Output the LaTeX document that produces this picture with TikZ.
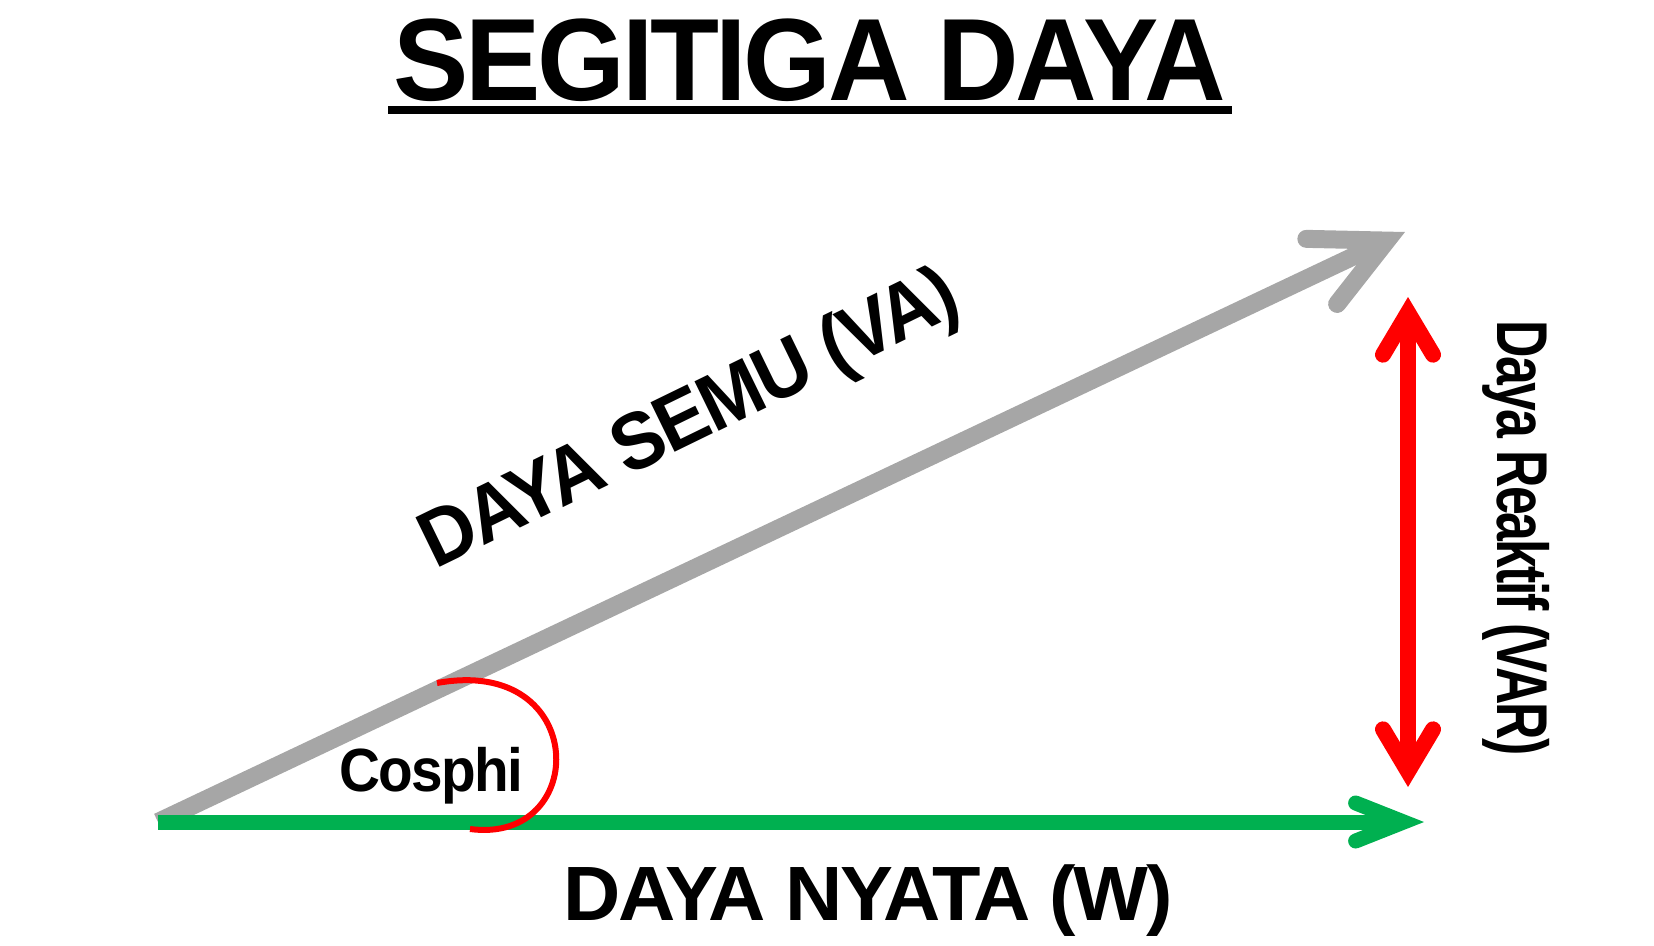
\documentclass[tikz,border=0pt]{standalone}
\usepackage{fontspec}
\setmainfont{Liberation Sans}
\newfontfamily\tightfont{Liberation Sans}[LetterSpace=-3]
\newfontfamily\tighterfont{Liberation Sans}[LetterSpace=-4]
\usepackage{graphicx}
\usetikzlibrary{arrows.meta}
\definecolor{semugray}{RGB}{166,166,166}
\definecolor{nyatagreen}{RGB}{0,176,80}
\definecolor{reaktifred}{RGB}{255,0,0}
\tikzset{lbl/.style={inner sep=0pt}}
\tikzset{semu/.style={semugray, line width=18pt,
      -{Straight Barb[length=72pt, width=72pt, line cap=round, line join=miter]}}}
\tikzset{nyata/.style={nyatagreen, line width=15pt,
      -{Straight Barb[length=48pt, width=38pt, line cap=round, line join=miter]}}}
\tikzset{reaktif/.style={reaktifred, line width=16pt,
      {Straight Barb[length=42pt, width=50pt, line cap=round, line join=miter]}-{Straight Barb[length=42pt, width=50pt, line cap=round, line join=miter]}}}
\newcommand{\squeeze}[2]{\scalebox{#1}[1]{#2}}

\begin{document}
\begin{tikzpicture}[x=1pt,y=-1pt]
    \useasboundingbox (0,0) rectangle (1654,945);
    \coordinate (o) at (158,822);
    \coordinate (s) at (1405,232);
    \coordinate (p) at (1424,822);
    \coordinate (q1) at (1408,787);
    \coordinate (q2) at (1408,297);

    \node[lbl, anchor=base, font=\tightfont\bfseries\fontsize{117}{120}\selectfont] (title) at (810,100) {\squeeze{0.965}{SEGITIGA DAYA}};
    \draw[line width=8pt] ([xshift=-5pt,yshift=-10pt]title.base west) -- ([xshift=5pt,yshift=-10pt]title.base east);

    \draw[semu] (o) -- (s);
    \draw[nyata] (o) -- (p);
    \draw[reaktif] (q1) -- (q2);
    \draw[reaktifred, line width=6pt] (437,683) .. controls (590,655) and (590,845) .. (470,829);

    \node[lbl, rotate=26, font=\tightfont\bfseries\fontsize{80}{84}\selectfont] (semutext) at (691,422) {\squeeze{0.95}{DAYA SEMU (VA)}};
    \node[lbl, anchor=base, font=\tightfont\bfseries\fontsize{77}{80}\selectfont] (nyatatext) at (868,920) {\squeeze{1.03}{DAYA NYATA (W)}};
    \node[lbl, rotate=-90, font=\tighterfont\bfseries\fontsize{72}{76}\selectfont] (reaktiftext) at (1516,538) {\squeeze{0.72}{Daya Reaktif (VAR)}};
    \node[lbl, anchor=base, font=\tightfont\bfseries\fontsize{61}{64}\selectfont] (cosphi) at (431,791) {\squeeze{0.93}{Cosphi}};
  \end{tikzpicture}
\end{document}
